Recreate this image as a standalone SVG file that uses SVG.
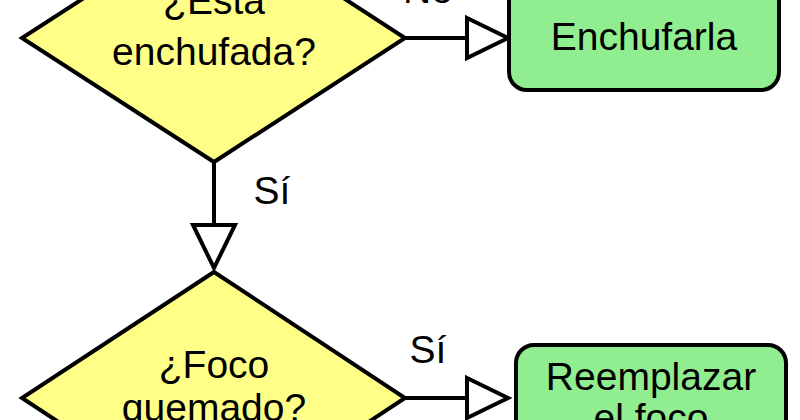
<svg xmlns="http://www.w3.org/2000/svg" width="800" height="420" viewBox="0 0 800 420">
<style>
.d{fill:#ffff88;stroke:#000;stroke-width:4}
.b{fill:#90ee90;stroke:#000;stroke-width:4}
.l{stroke:#000;stroke-width:4;fill:none}
.h{fill:#fff;stroke:#000;stroke-width:4}
text{font-family:"Liberation Sans",Arial,sans-serif;font-size:39px;fill:#000;text-anchor:middle}
</style>
<rect width="800" height="420" fill="#fff"/>
<g id="connectors">
<line class="l" x1="405" y1="38" x2="467" y2="38"/>
<polygon class="h" points="467,18 508,38 467,58"/>
<line class="l" x1="214" y1="162" x2="214" y2="225"/>
<polygon class="h" points="193,225 235,225 214,268"/>
<line class="l" x1="405" y1="398" x2="467" y2="398"/>
<polygon class="h" points="467,378 508,398 467,418"/>
<text x="428" y="3">No</text>
<text x="272" y="204">Sí</text>
<text x="428" y="363">Sí</text>
</g>
<g id="n1">
<polygon class="d" points="214,-86 405,38 214,162 22,38"/>
<text x="214" y="14">¿Está</text>
<text x="214" y="65">enchufada?</text>
</g>
<g id="n2">
<rect class="b" x="509" y="-20" width="270" height="110" rx="18"/>
<text x="644" y="50">Enchufarla</text>
</g>
<g id="n3">
<polygon class="d" points="214,272 405,398 214,524 22,398"/>
<text x="214" y="378">¿Foco</text>
<text x="214" y="421">quemado?</text>
</g>
<g id="n4">
<rect class="b" x="516" y="345" width="270" height="110" rx="18"/>
<text x="651" y="390">Reemplazar</text>
<text x="651" y="431">el foco</text>
</g>
</svg>
